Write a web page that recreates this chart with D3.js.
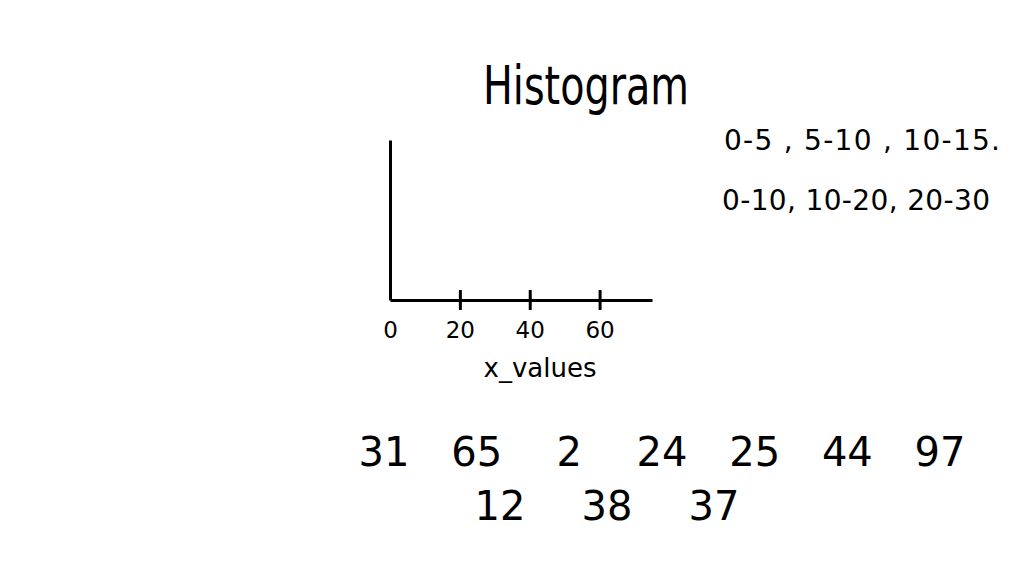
<!DOCTYPE html>
<meta charset="utf-8">
<html>
<head>
  <title>Histogram</title>
  <style>
    body { margin: 0; background: #fff; }
    text { font-family: "DejaVu Sans", sans-serif; fill: #000; }
  </style>
</head>
<body>
<div id="my_dataviz"></div>
<script src="https://d3js.org/d3.v7.min.js"></script>
<script>

// values written under the axes
var dataRow1 = [31, 65, 2, 24, 25, 44, 97];
var dataRow2 = [12, 38, 37];
// bin widths noted on the right
var binsFive = ["0-5", "5-10", "10-15."];
var binsTen = ["0-10", "10-20", "20-30"];
// x axis ticks
var tickValues = [0, 20, 40, 60];
var tickLabels = ["0", "20", "40", "60"];

var width = 1024, height = 576;

var svg = d3.select("#my_dataviz")
  .append("svg")
    .attr("width", width)
    .attr("height", height);

// title
svg.append("text")
  .attr("x", 586)
  .attr("y", 104)
  .attr("text-anchor", "middle")
  .attr("font-size", 54)
  .attr("textLength", 206)
  .attr("lengthAdjust", "spacingAndGlyphs")
  .text("Histogram");

// X axis (empty histogram frame)
var x = d3.scaleLinear()
  .domain([0, 75])
  .range([390, 652]);

var y = d3.scaleLinear()
  .domain([0, 10])
  .range([300, 140]);

var xAxis = svg.append("g")
  .attr("transform", "translate(0," + y(0) + ")")
  .call(d3.axisBottom(x)
    .tickValues(tickValues)
    .tickSizeOuter(0)
    .tickFormat(function(d, i) { return tickLabels[i]; }));

xAxis.select(".domain").attr("stroke-width", 3).attr("stroke", "#000");
xAxis.selectAll(".tick line")
  .attr("y1", -10).attr("y2", 10)
  .attr("stroke-width", 3)
  .attr("stroke", "#000")
  .filter(function(d) { return d === 0; }).remove();
xAxis.selectAll(".tick text")
  .attr("y", 22)
  .attr("font-size", 23)
  .style("font-family", "DejaVu Sans");

var yAxis = svg.append("g")
  .attr("transform", "translate(" + x(0) + ",0)")
  .call(d3.axisLeft(y).ticks(0).tickSizeOuter(0));
yAxis.select(".domain").attr("stroke-width", 3).attr("stroke", "#000");

// axis label
svg.append("text")
  .attr("x", 540)
  .attr("y", 377)
  .attr("text-anchor", "middle")
  .attr("font-size", 26)
  .text("x_values");

// bin notes
svg.append("text")
  .attr("x", 724)
  .attr("y", 150)
  .attr("font-size", 28)
  .attr("textLength", 276)
  .text(binsFive.join(" , "));

svg.append("text")
  .attr("x", 722)
  .attr("y", 210)
  .attr("font-size", 28)
  .attr("textLength", 268)
  .text(binsTen.join(", "));

// raw data values
var row1 = d3.scalePoint()
  .domain(d3.range(dataRow1.length))
  .range([384, 940]);

svg.selectAll(".v1")
  .data(dataRow1)
  .enter()
  .append("text")
    .attr("class", "v1")
    .attr("x", function(d, i) { return row1(i); })
    .attr("y", 466)
    .attr("text-anchor", "middle")
    .attr("font-size", 40)
    .text(function(d) { return d; });

var row2 = d3.scalePoint()
  .domain(d3.range(dataRow2.length))
  .range([500, 714]);

svg.selectAll(".v2")
  .data(dataRow2)
  .enter()
  .append("text")
    .attr("class", "v2")
    .attr("x", function(d, i) { return row2(i); })
    .attr("y", 520)
    .attr("text-anchor", "middle")
    .attr("font-size", 40)
    .text(function(d) { return d; });

</script>
</body>
</html>
